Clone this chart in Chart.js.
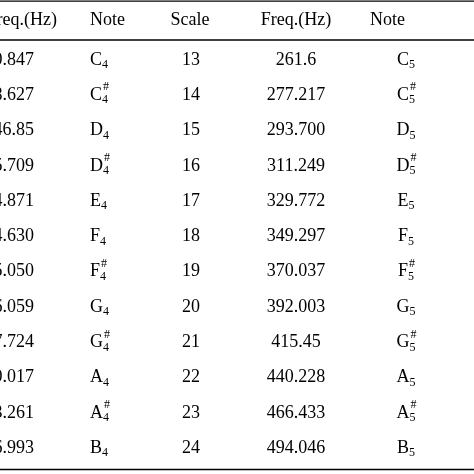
<!DOCTYPE html><html><head><meta charset="utf-8">
<script src="https://cdn.jsdelivr.net/npm/chart.js@4/dist/chart.umd.min.js"></script>
<style>html,body{margin:0;padding:0;background:#fff;overflow:hidden}</style></head><body>
<canvas id="c" width="474" height="474"></canvas>
<script>
const headers = ["Freq.(Hz)", "Note", "Scale", "Freq.(Hz)", "Note"];
const freqLow = ["130.847","138.627","146.85","155.709","164.871","174.630","185.050","196.059","207.724","220.017","233.261","246.993"];
const notesLow = ["C4","C4#","D4","D4#","E4","F4","F4#","G4","G4#","A4","A4#","B4"];
const scales = ["13","14","15","16","17","18","19","20","21","22","23","24"];
const freqHigh = ["261.6","277.217","293.700","311.249","329.772","349.297","370.037","392.003","415.45","440.228","466.433","494.046"];
const notesHigh = ["C5","C5#","D5","D5#","E5","F5","F5#","G5","G5#","A5","A5#","B5"];

const F = '"Liberation Serif", "Times New Roman", serif';
function drawNote(ctx, s, x, y, align){
  const letter = s[0], sub = s[1], sharp = s.length>2;
  ctx.font = '18px '+F; const w1 = ctx.measureText(letter).width;
  ctx.font = '12px '+F; const w2 = ctx.measureText(sub).width;
  const wt = w1+w2;
  let x0 = align==='center'? x-wt/2 : x;
  ctx.textAlign='left';
  ctx.font='18px '+F; ctx.fillText(letter,x0,y);
  ctx.font='12px '+F; ctx.fillText(sub,x0+w1,y+5);
  if(sharp) ctx.fillText('#',x0+w1+1,y-8);
}
const tablePlugin = {id:'tbl', afterDraw(ch){
  const ctx=ch.ctx, xs=ch.scales.x, ys=ch.scales.y;
  const X=v=>xs.getPixelForValue(v), Y=v=>ys.getPixelForValue(v);
  ctx.save(); ctx.fillStyle='#000'; ctx.textBaseline='middle';
  ctx.strokeStyle='#000';
  ctx.lineWidth=1.2; ctx.beginPath(); ctx.moveTo(X(0),Y(-1.67)); ctx.lineTo(X(474),Y(-1.67)); ctx.stroke();
  ctx.lineWidth=1.5; ctx.beginPath(); ctx.moveTo(X(0),Y(-0.567)); ctx.lineTo(X(474),Y(-0.567)); ctx.stroke();
  ctx.lineWidth=1.5; ctx.beginPath(); ctx.moveTo(X(0),Y(11.6)); ctx.lineTo(X(474),Y(11.6)); ctx.stroke();
  ctx.font='18px '+F;
  const hy=Y(-1.133);
  ctx.textAlign='right'; ctx.fillText(headers[0],X(57),hy);
  ctx.textAlign='left'; ctx.fillText(headers[1],X(90),hy);
  ctx.textAlign='center'; ctx.fillText(headers[2],X(190),hy);
  ctx.fillText(headers[3],X(296),hy);
  ctx.textAlign='left'; ctx.fillText(headers[4],X(370),hy);
  for(let i=0;i<scales.length;i++){
    const y=Y(i);
    ctx.font='18px '+F;
    ctx.textAlign='right'; ctx.fillText(freqLow[i],X(34),y);
    ctx.textAlign='center'; ctx.fillText(scales[i],X(191),y);
    ctx.fillText(freqHigh[i],X(296),y);
    drawNote(ctx,notesLow[i],X(90),y,'left');
    drawNote(ctx,notesHigh[i],X(406),y,'center');
  }
  ctx.restore();
}};
new Chart(document.getElementById('c'),{
  type:'scatter',
  data:{datasets:[{data:[],pointRadius:0}]},
  options:{responsive:false,animation:false,devicePixelRatio:1,
    layout:{padding:0},
    plugins:{legend:{display:false},tooltip:{enabled:false}},
    scales:{
      x:{type:'linear',min:0,max:474,display:false},
      y:{type:'linear',min:-1.70,max:11.73,reverse:true,display:false}
    }},
  plugins:[tablePlugin]
});
</script></body></html>
